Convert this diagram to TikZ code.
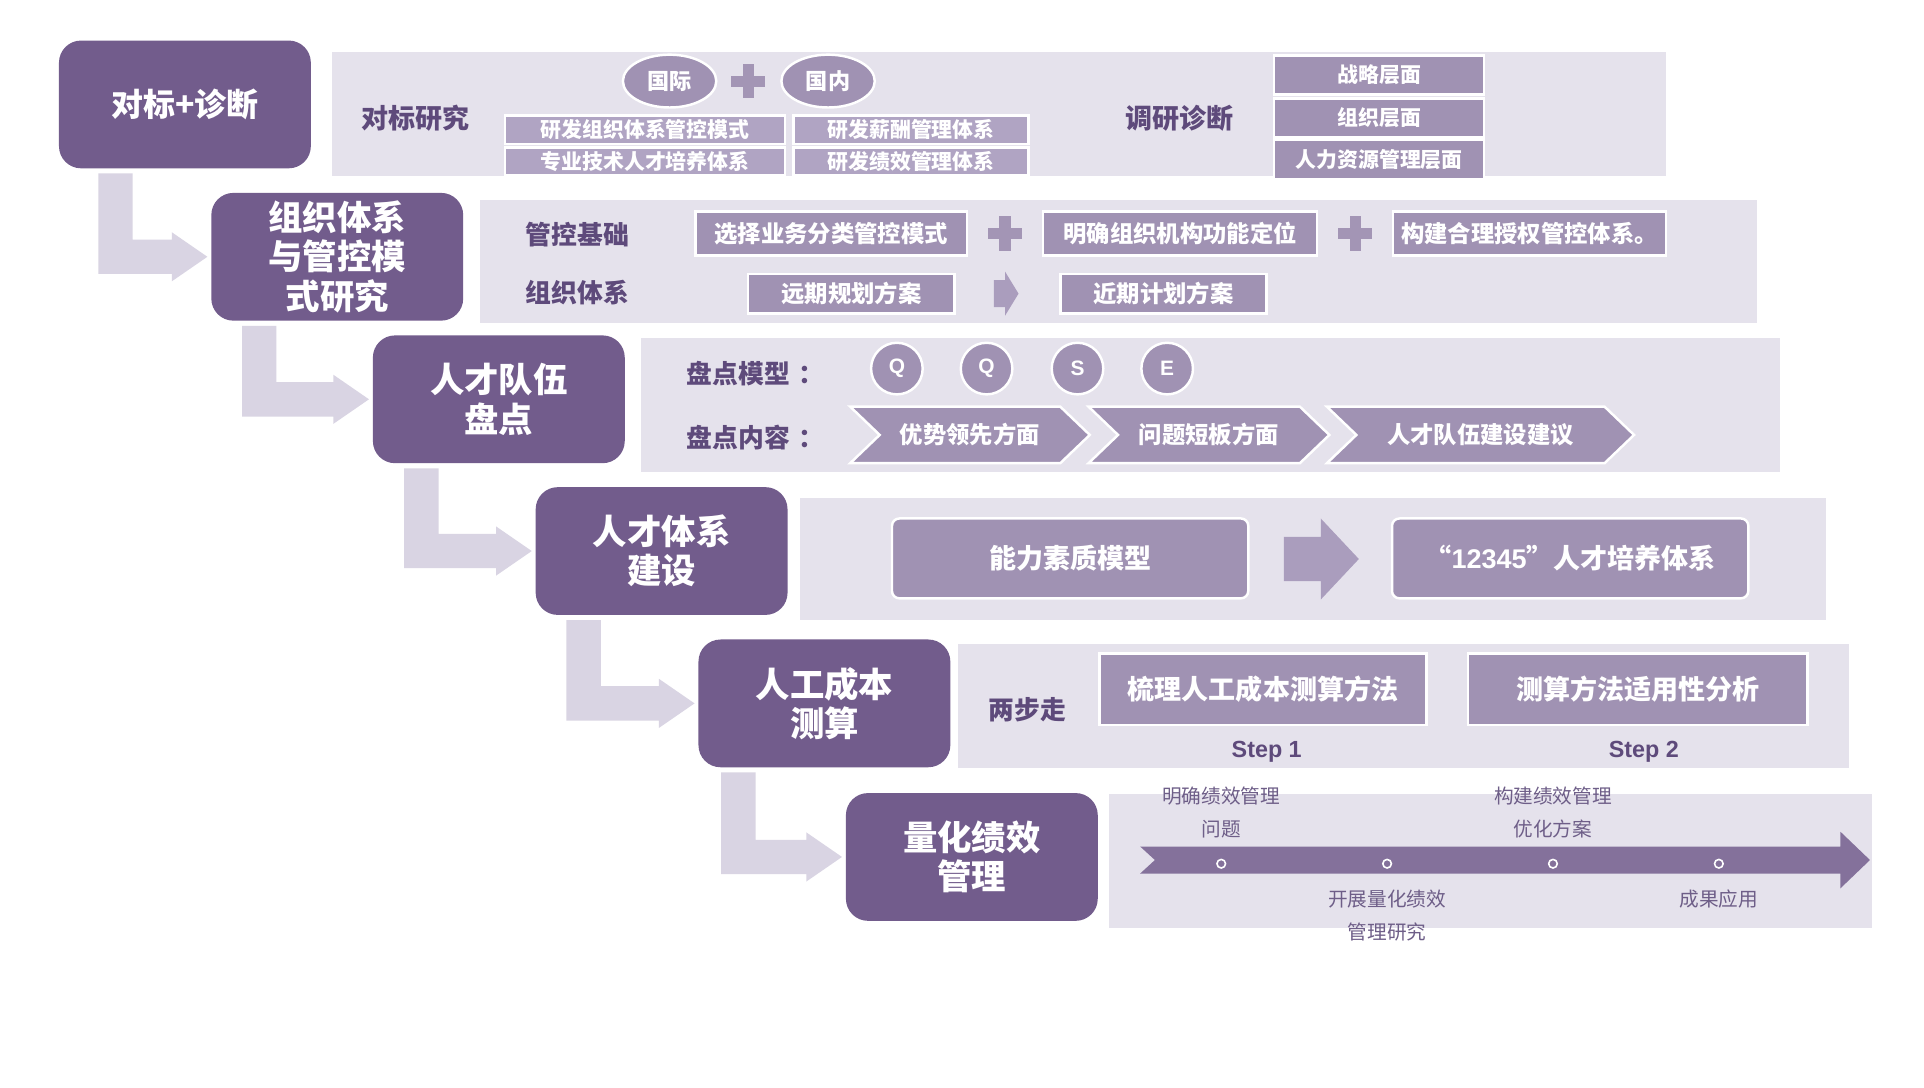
\documentclass[tikz,border=0pt]{standalone}
\usepackage{fontspec}
\setmainfont{Noto Sans CJK SC}
\newfontfamily\lat{Liberation Sans}
\usetikzlibrary{calc,shapes.geometric}
\definecolor{mainc}{HTML}{725C8C}
\definecolor{bandc}{HTML}{E5E2EC}
\definecolor{boxc}{HTML}{A092B3}
\definecolor{boxlc}{HTML}{B0A4C3}
\definecolor{larrc}{HTML}{D9D4E3}
\definecolor{darkt}{HTML}{5E4A7B}
\definecolor{tlc}{HTML}{84719B}
\definecolor{labt}{HTML}{6E5E88}
\definecolor{plusc}{HTML}{A395B5}
\definecolor{arrc}{HTML}{AA9DBD}
\tikzset{
  mainbox/.style={fill=mainc, rounded corners=18pt, minimum width=205pt, minimum height=104pt,
    inner sep=0pt, align=center, text=white, font=\bfseries\fontsize{28}{32}\selectfont},
  band/.style={fill=bandc, inner sep=0pt},
  lbl/.style={text=darkt, inner sep=0pt, font=\bfseries\fontsize{21}{24}\selectfont},
  pbox/.style={fill=boxc, draw=white, line width=2pt, inner sep=0pt, text=white,
    font=\bfseries\fontsize{19}{22}\selectfont},
  lbox/.style={fill=boxlc, draw=white, line width=2pt, inner sep=0pt, text=white,
    minimum height=23pt, font=\bfseries\fontsize{17}{20}\selectfont},
  sbox/.style={pbox, minimum width=171pt, minimum height=32pt, font=\bfseries\fontsize{17}{20}\selectfont},
  oval/.style={ellipse, fill=boxc, draw=white, line width=2pt, inner sep=0pt, text=white,
    minimum width=76pt, minimum height=43pt, font=\bfseries\fontsize{18}{20}\selectfont},
  qcirc/.style={circle, fill=boxc, draw=white, line width=2pt, inner sep=0pt, text=white,
    minimum size=42pt, font=\lat\bfseries\fontsize{17}{20}\selectfont},
  chevtxt/.style={inner sep=0pt, text=white, font=\bfseries\fontsize{19}{22}\selectfont},
  bigbox/.style={fill=boxc, draw=white, line width=2pt, rounded corners=6pt, inner sep=0pt, text=white,
    minimum width=290pt, minimum height=65pt, font=\bfseries\fontsize{22}{26}\selectfont},
  stepbox/.style={pbox, minimum height=58pt, font=\bfseries\fontsize{22}{26}\selectfont},
  steplbl/.style={inner sep=0pt, text=darkt, font=\lat\bfseries\fontsize{19}{22}\selectfont},
  tldot/.style={circle, draw=white, line width=1.3pt, minimum size=7pt, inner sep=0pt},
  tllbl/.style={inner sep=0pt, text=labt, align=center, font=\fontsize{16}{27}\selectfont},
}
% #1 from box, #2 to box, #3 left x of the vertical stem
\newcommand{\Larrow}[3]{%
  \fill[larrc] let \p1=(#1.south west), \p2=(#2.west) in
    (#3pt,\y1-4pt) -- (#3pt+28pt,\y1-4pt) -- (#3pt+28pt,\y2+14pt) -- (\x2-32pt,\y2+14pt)
    -- (\x2-32pt,\y2+20pt) -- (\x2-3pt,\y2) -- (\x2-32pt,\y2-20pt) -- (\x2-32pt,\y2-14pt)
    -- (#3pt,\y2-14pt) -- cycle;}
\newcommand{\plusmark}[3]{%
  \coordinate (#1) at (#2,#3);
  \fill[plusc] ($(#1)+(-14,-4.5)$) rectangle ($(#1)+(14,4.5)$);
  \fill[plusc] ($(#1)+(-4.5,-14)$) rectangle ($(#1)+(4.5,14)$);}
\newcommand{\chev}[5]{%
  \filldraw[fill=boxc, draw=white, line width=2pt] (#2,#4-23) -- (#3-24,#4-23) -- (#3,#4)
    -- (#3-24,#4+23) -- (#2,#4+23) -- (#2+24,#4) -- cycle;
  \node[chevtxt] (#1) at ({(#2+#3)/2},#4) {#5};}
\begin{document}
\begin{tikzpicture}[x=1pt,y=-1pt]
\useasboundingbox (0,0) rectangle (1566,885.5);
\fill[white] (0,0) rectangle (1566,885.5);

% bands
\node[band, minimum width=1086pt, minimum height=101pt] (band1) at (813,92.5) {};
\node[band, minimum width=1039pt, minimum height=100pt] (band2) at (910.5,213) {};
\node[band, minimum width=927pt, minimum height=109pt] (band3) at (985.5,329.5) {};
\node[band, minimum width=835pt, minimum height=100pt] (band4) at (1068.5,455) {};
\node[band, minimum width=725pt, minimum height=101pt] (band5) at (1142.5,574.5) {};
\node[band, minimum width=621pt, minimum height=109pt] (band6) at (1213.5,700.5) {};

% main boxes
\node[mainbox, font=\bfseries\fontsize{26}{30}\selectfont] (b1) at (150.5,85) {对标+诊断};
\node[mainbox] (b2) at (274.5,209) {组织体系\\与管控模\\式研究};
\node[mainbox] (b3) at (406,325) {人才队伍\\盘点};
\node[mainbox] (b4) at (538.5,448.5) {人才体系\\建设};
\node[mainbox] (b5) at (671,572.5) {人工成本\\测算};
\node[mainbox] (b6) at (791,697.5) {量化绩效\\管理};

% L-shaped connectors
\Larrow{b1}{b2}{80}
\Larrow{b2}{b3}{197}
\Larrow{b3}{b4}{329}
\Larrow{b4}{b5}{461}
\Larrow{b5}{b6}{587}

% row 1
\node[lbl, font=\bfseries\fontsize{22}{24}\selectfont] (t11) at (338,96) {对标研究};
\node[oval] (e1) at (545,66) {国际};
\plusmark{pl1}{609}{66}
\node[oval] (e2) at (674,66) {国内};
\node[lbox, minimum width=228pt] (r1a) at (525,105.5) {研发组织体系管控模式};
\node[lbox, minimum width=191pt] (r1b) at (741.5,105.5) {研发薪酬管理体系};
\node[lbox, minimum width=228pt] (r1c) at (525,131.5) {专业技术人才培养体系};
\node[lbox, minimum width=191pt] (r1d) at (741.5,131.5) {研发绩效管理体系};
\node[lbl, font=\bfseries\fontsize{22}{24}\selectfont] (t12) at (960,96) {调研诊断};
\node[sbox] (s1) at (1122.5,61) {战略层面};
\node[sbox] (s2) at (1122.5,96) {组织层面};
\node[sbox] (s3) at (1122.5,130) {人力资源管理层面};

% row 2
\node[lbl] (t21) at (470,191) {管控基础};
\node[lbl] (t22) at (470,238) {组织体系};
\node[pbox, minimum width=221pt, minimum height=36pt] (c1) at (676.5,190) {选择业务分类管控模式};
\plusmark{pl2}{818}{190}
\node[pbox, minimum width=223pt, minimum height=36pt] (c2) at (960.5,190) {明确组织机构功能定位};
\plusmark{pl3}{1103}{190}
\node[pbox, minimum width=222pt, minimum height=36pt] (c3) at (1245,190) {构建合理授权管控体系。};
\node[pbox, minimum width=168pt, minimum height=32pt] (d1) at (693,239) {远期规划方案};
\node[pbox, minimum width=168pt, minimum height=32pt] (d2) at (947,239) {近期计划方案};
\fill[arrc] (809,228) -- (818,228) -- (818,221) -- (829,239) -- (818,257) -- (818,250) -- (809,250) -- cycle;

% row 3
\node[lbl] (t31) at (615,304) {盘点模型\hspace{7pt}：};
\node[lbl] (t32) at (615,356) {盘点内容\hspace{7pt}：};
\node[qcirc] (q1) at (730,300) {Q};
\node[qcirc] (q2) at (803,300) {Q};
\node[qcirc] (q3) at (877,300) {S};
\node[qcirc] (q4) at (950,300) {E};
\chev{ch1}{692}{887}{354}{优势领先方面}
\chev{ch2}{886}{1082}{354}{问题短板方面}
\chev{ch3}{1080}{1330}{354}{人才队伍建设建议}

% row 4
\node[bigbox] (k1) at (871,454.5) {能力素质模型};
\fill[arrc] (1045,437) -- (1075,437) -- (1075,422) -- (1106,455) -- (1075,488) -- (1075,473) -- (1045,473) -- cycle;
\node[bigbox] (k2) at (1278,454.5) {“{\lat 12345}”人才培养体系};

% row 5
\node[lbl] (t51) at (836,578) {两步走};
\node[stepbox, minimum width=266pt] (m1) at (1028,561) {梳理人工成本测算方法};
\node[stepbox, minimum width=276pt] (m2) at (1333,561) {测算方法适用性分析};
\node[steplbl] (st1) at (1031,612) {Step 1};
\node[steplbl] (st2) at (1338,612) {Step 2};

% row 6
\fill[tlc] (928,689) -- (1498,689) -- (1498,677) -- (1522,700) -- (1498,723) -- (1498,711)
  -- (928,711) -- (940,700) -- cycle;
\node[tldot] (p1) at (994,703) {};
\node[tldot] (p2) at (1129,703) {};
\node[tldot] (p3) at (1264,703) {};
\node[tldot] (p4) at (1399,703) {};
\node[tllbl] (l1) at (994,661.5) {明确绩效管理\\问题};
\node[tllbl] (l2) at (1264,661.5) {构建绩效管理\\优化方案};
\node[tllbl] (l3) at (1129,745) {开展量化绩效\\管理研究};
\node[tllbl] (l4) at (1399,732) {成果应用};
\end{tikzpicture}
\end{document}
